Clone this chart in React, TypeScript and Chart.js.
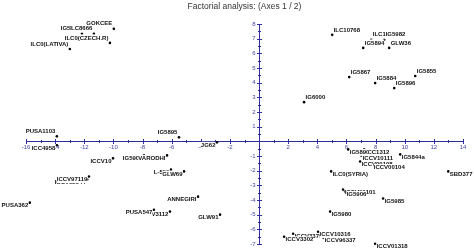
import React, { useEffect, useRef } from "react";
import { Chart, registerables } from "chart.js";
Chart.register(...registerables);

// Observations (drawn in this order; later labels cover earlier ones)
const names = [
  "IG5873", "GOKCEE", "ILC8666", "ILC0(CZECH.R)", "ILC0(LATIVA)",
  "ILC10768", "ILC1", "IG5982", "IG5894", "GLW36",
  "IG5867", "IG5884", "IG5855", "IG5896", "IG6000",
  "PUSA1103", "ICC4958", "IG5895", "JG62", "ICCV10",
  "IG5904", "VARODHI", "L-550", "GLW69", "ANNEGIRI",
  "GLW91", "ICCV3112", "PUSA547", "ICCV92944", "ICCV97119",
  "PUSA362", "ICCV3379", "ICCV3302", "ICCV96337", "ICCV10316",
  "ICCV01318", "SBD377", "ILC0(SYRIA)", "ICCV06101", "IG5906",
  "IG5985", "IG5980", "ICC1312", "IG5890", "ICCV10111",
  "IG5844a", "ICCV00108", "ICCV00104",
];
const xs = [
  -12.16, -9.97, -11.34, -10.24, -12.99,
  5.02, 7.7, 8.59, 7.15, 8.93,
  6.19, 7.97, 10.72, 9.28, 3.09,
  -13.88, -13.88, -5.5, -2.89, -10.03,
  -7.9, -6.32, -6.05, -5.15, -4.19,
  -2.68, -6.12, -7.22, -11.8, -11.68,
  -15.74, 2.34, 1.72, 4.4, 4.05,
  7.97, 12.99, 4.95, 5.77, 5.91,
  8.52, 4.88, 7.22, 6.12, 7.01,
  9.69, 6.94, 7.77,
];
const ys = [
  7.33, 7.67, 7.33, 6.71, 6.3,
  7.26, 6.92, 6.92, 6.37, 6.37,
  4.38, 3.97, 4.45, 3.63, 2.67,
  0.34, -0.27, 0.27, -0.07, -1.16,
  -0.96, -0.96, -1.92, -2.05, -3.77,
  -5.0, -4.79, -4.66, -2.6, -2.4,
  -4.18, -6.3, -6.51, -6.58, -6.16,
  -6.98, -2.05, -2.05, -3.29, -3.42,
  -3.9, -4.79, -0.55, -0.55, -0.96,
  -0.89, -1.38, -1.58,
];

const xTickLabels = [-16, -14, -12, -10, -8, -6, -4, -2, 2, 4, 6, 8, 10, 12, 14];
const yTickLabels = [-7, -6, -5, -4, -3, -2, -1, 1, 2, 3, 4, 5, 6, 7, 8];
const title = "Factorial analysis: (Axes 1 / 2)";

const AXIS = "#2e2e9e";
const FONT = '"Liberation Sans", Arial, sans-serif';

const axesPlugin = {
  id: "centerAxes",
  beforeDatasetsDraw(chart: any) {
    const { ctx, chartArea } = chart;
    const x = chart.scales.x;
    const y = chart.scales.y;
    const x0 = Math.round(x.getPixelForValue(0)) + 0.5;
    const y0 = Math.round(y.getPixelForValue(0)) + 0.5;
    ctx.save();
    ctx.strokeStyle = AXIS;
    ctx.lineWidth = 1;
    ctx.beginPath();
    ctx.moveTo(x.getPixelForValue(x.min), y0);
    ctx.lineTo(x.getPixelForValue(x.max), y0);
    ctx.moveTo(x0, y.getPixelForValue(y.min));
    ctx.lineTo(x0, y.getPixelForValue(y.max));
    for (let v = x.min; v <= x.max; v += 1) {
      const px = Math.round(x.getPixelForValue(v)) + 0.5;
      const l = v % 2 === 0 ? 2.5 : 1.5;
      ctx.moveTo(px, y0 - l);
      ctx.lineTo(px, y0 + l);
    }
    for (let v = y.min; v <= y.max + 1e-9; v += 0.5) {
      const py = Math.round(y.getPixelForValue(v)) + 0.5;
      const l = Number.isInteger(v) ? 2.5 : 1.5;
      ctx.moveTo(x0 - l, py);
      ctx.lineTo(x0 + l, py);
    }
    ctx.stroke();
    ctx.fillStyle = "#4444a8";
    ctx.font = `6px ${FONT}`;
    ctx.textAlign = "center";
    ctx.textBaseline = "top";
    xTickLabels.forEach((v) => ctx.fillText(String(v), x.getPixelForValue(v), y0 + 3));
    ctx.textAlign = "right";
    ctx.textBaseline = "middle";
    yTickLabels.forEach((v) => ctx.fillText(String(v), x0 - 4, y.getPixelForValue(v)));
    // title
    ctx.fillStyle = "#333";
    ctx.font = `8.5px ${FONT}`;
    ctx.textAlign = "center";
    ctx.textBaseline = "middle";
    ctx.fillText(title, (chartArea.left + chartArea.right) / 2, 7);
    ctx.restore();
  },
  afterDatasetsDraw(chart: any) {
    const { ctx } = chart;
    const x = chart.scales.x;
    const y = chart.scales.y;
    ctx.save();
    ctx.font = `bold 6px ${FONT}`;
    ctx.textBaseline = "middle";
    names.forEach((name, i) => {
      const px = x.getPixelForValue(xs[i]);
      const py = y.getPixelForValue(ys[i]);
      const w = ctx.measureText(name).width;
      const left = xs[i] < 0;
      const ty = ys[i] > 0 ? py - 5 : py + 3;
      const tx = left ? px - 1.5 - w : px + 1.5;
      ctx.fillStyle = "#fff";
      ctx.fillRect(tx, ty - 3.5, w, 7);
      ctx.fillStyle = "#111";
      ctx.textAlign = "left";
      ctx.fillText(name, tx, ty);
    });
    ctx.restore();
  },
};

export default function App() {
  const ref = useRef<HTMLCanvasElement>(null);
  useEffect(() => {
    if (!ref.current) return;
    const chart = new Chart(ref.current, {
      type: "scatter",
      data: {
        datasets: [
          {
            data: xs.map((v, i) => ({ x: v, y: ys[i] })),
            pointRadius: 1.3,
            pointBackgroundColor: "#000",
            pointBorderWidth: 0,
            clip: false as any,
          },
        ],
      },
      options: {
        animation: false,
        responsive: false,
        devicePixelRatio: 1,
        layout: { padding: { left: 26, right: 11, top: 24, bottom: 7 } },
        plugins: { legend: { display: false }, tooltip: { enabled: false }, title: { display: false } },
        scales: {
          x: { type: "linear", min: -16, max: 14, display: false },
          y: { type: "linear", min: -7, max: 8, display: false },
        },
      },
      plugins: [axesPlugin],
    });
    return () => chart.destroy();
  }, []);
  return (
    <div style={{ position: "fixed", left: 0, top: 0, width: 474, height: 251, background: "#fff" }}>
      <canvas ref={ref} width={474} height={251} style={{ display: "block" }} />
    </div>
  );
}
